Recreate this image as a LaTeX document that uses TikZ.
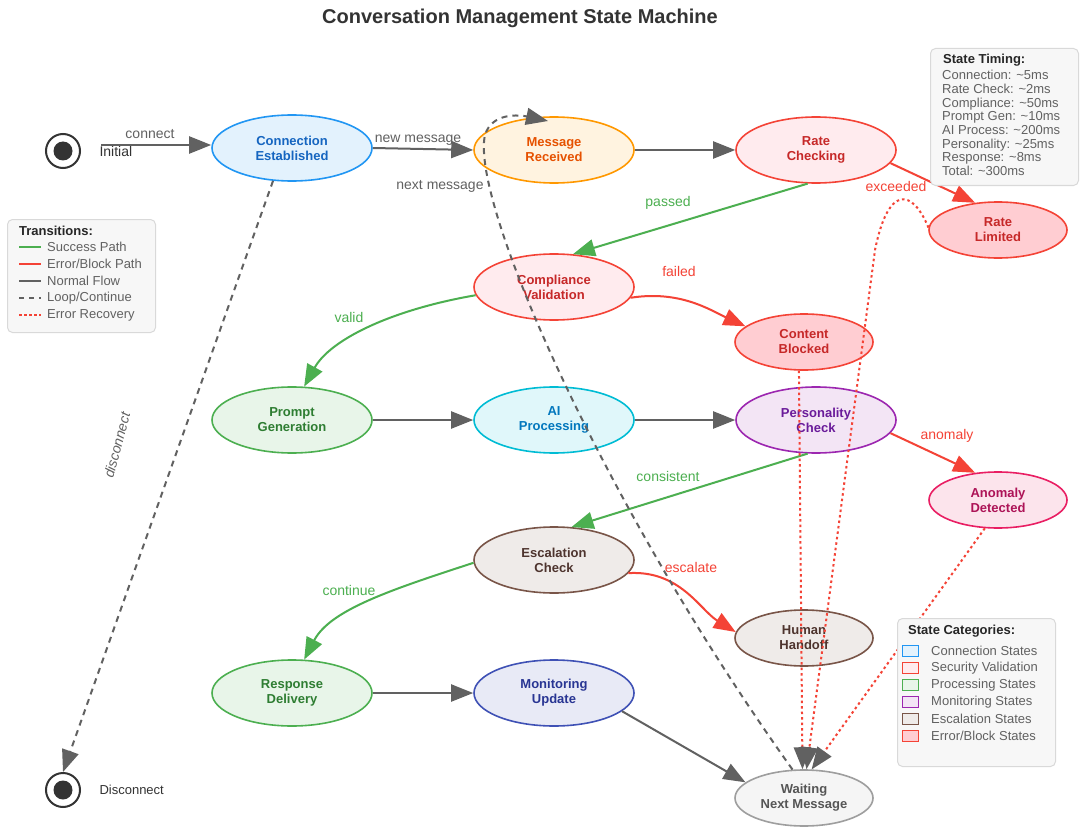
\documentclass[tikz,border=0pt]{standalone}
\usepackage{fontspec}
\setmainfont{Liberation Sans}
\usetikzlibrary{shapes.geometric,arrows.meta}
\definecolor{gr}{HTML}{616161}
\definecolor{sg}{HTML}{4CAF50}
\definecolor{er}{HTML}{F44336}
\definecolor{cB}{HTML}{2196F3}\definecolor{fB}{HTML}{E3F2FD}\definecolor{tB}{HTML}{1565C0}
\definecolor{cO}{HTML}{FF9800}\definecolor{fO}{HTML}{FFF3E0}\definecolor{tO}{HTML}{E65100}
\definecolor{fR}{HTML}{FFEBEE}\definecolor{tR}{HTML}{C62828}\definecolor{fE}{HTML}{FFCDD2}
\definecolor{fG}{HTML}{E8F5E9}\definecolor{tG}{HTML}{2E7D32}
\definecolor{cC}{HTML}{00BCD4}\definecolor{fC}{HTML}{E0F7FA}\definecolor{tC}{HTML}{0277BD}
\definecolor{cP}{HTML}{9C27B0}\definecolor{fP}{HTML}{F3E5F5}\definecolor{tP}{HTML}{6A1B9A}
\definecolor{cK}{HTML}{E91E63}\definecolor{fK}{HTML}{FCE4EC}\definecolor{tK}{HTML}{AD1457}
\definecolor{cW}{HTML}{795548}\definecolor{fW}{HTML}{EFEBE9}\definecolor{tW}{HTML}{4E342E}
\definecolor{cI}{HTML}{3F51B5}\definecolor{fI}{HTML}{E8EAF6}\definecolor{tI}{HTML}{283593}
\definecolor{cY}{HTML}{9E9E9E}\definecolor{fY}{HTML}{F5F5F5}\definecolor{tY}{HTML}{555555}
\tikzset{
 st/.style={ellipse,line width=1.6pt,minimum width=160pt,minimum height=66pt,inner sep=0pt,align=center,font=\fontsize{13}{15}\selectfont\bfseries},
 sm/.style={st,minimum width=138pt,minimum height=56pt},
 blue/.style={draw=cB,fill=fB,text=tB},
 orng/.style={draw=cO,fill=fO,text=tO},
 sec/.style={draw=er,fill=fR,text=tR},
 errs/.style={draw=er,fill=fE,text=tR},
 proc/.style={draw=sg,fill=fG,text=tG},
 cyan/.style={draw=cC,fill=fC,text=tC},
 purp/.style={draw=cP,fill=fP,text=tP},
 pink/.style={draw=cK,fill=fK,text=tK},
 brwn/.style={draw=cW,fill=fW,text=tW},
 indi/.style={draw=cI,fill=fI,text=tI},
 gray/.style={draw=cY,fill=fY,text=tY},
 tip/.style={-{Triangle[length=22pt,width=17pt]}},
 nf/.style={tip,draw=gr,line width=2pt},
 ok/.style={tip,draw=sg,line width=2pt},
 bad/.style={tip,draw=er,line width=2pt},
 loop/.style={draw=gr,line width=2pt,dash pattern=on 6pt off 5pt},
 rec/.style={draw=er,line width=2pt,dash pattern=on 2.5pt off 3pt,-{Triangle[length=22pt,width=17pt,fill=gr,color=gr]}},
 lbl/.style={font=\fontsize{14}{16}\selectfont},
 box/.style={draw=black!15,fill=black!3,rounded corners=5pt,line width=1pt},
 lt/.style={font=\fontsize{13}{13}\selectfont,text=gr,anchor=west,inner sep=0pt},
 lh/.style={font=\fontsize{13}{14}\selectfont\bfseries,text=black!85,anchor=west,inner sep=0pt},
 sw/.style={line width=1pt,minimum width=16pt,minimum height=11pt,inner sep=0pt},
}
\begin{document}
\begin{tikzpicture}[x=1pt,y=-1pt]
\useasboundingbox[fill=white] (0,0) rectangle (1090,840);
\node[font=\fontsize{20}{22}\selectfont\bfseries,text=black!80] (title) at (520,18) {Conversation Management State Machine};
% initial / final
\node[circle,draw=black!80,line width=2pt,minimum size=34pt,inner sep=0pt] (init) at (63,151) {};
\node[circle,fill=black!80,minimum size=19pt,inner sep=0pt] (initd) at (63,151) {};
\node[lbl,text=black!80,anchor=west] (initt) at (96,151) {Initial};
\node[circle,draw=black!80,line width=2pt,minimum size=34pt,inner sep=0pt] (disc) at (63,790) {};
\node[circle,fill=black!80,minimum size=19pt,inner sep=0pt] (discd) at (63,790) {};
\node[font=\fontsize{13}{15}\selectfont,text=black!80,anchor=west] (disct) at (96,790) {Disconnect};
% states
\node[st,blue] (conn) at (292,148) {Connection\\Established};
\node[st,orng] (msg) at (554,150) {Message\\Received};
\node[st,sec] (rate) at (816,150) {Rate\\Checking};
\node[sm,errs] (rlim) at (998,230) {Rate\\Limited};
\node[st,sec] (comp) at (554,287) {Compliance\\Validation};
\node[sm,errs] (blk) at (804,342) {Content\\Blocked};
\node[st,proc] (prm) at (292,420) {Prompt\\Generation};
\node[st,cyan] (ai) at (554,420) {AI\\Processing};
\node[st,purp] (per) at (816,420) {Personality\\Check};
\node[sm,pink] (ano) at (998,500) {Anomaly\\Detected};
\node[st,brwn] (esc) at (554,560) {Escalation\\Check};
\node[sm,brwn] (hum) at (804,638) {Human\\Handoff};
\node[st,proc] (rsp) at (292,693) {Response\\Delivery};
\node[st,indi] (mon) at (554,693) {Monitoring\\Update};
\node[sm,gray] (wait) at (804,798) {Waiting\\Next Message};
% flows
\draw[nf] (init.east) ++(20,-6) coordinate (a0) -- (conn.west |- a0);
\node[lbl,text=gr] (l1) at (150,134) {connect};
\draw[nf] (conn.east) -- (msg.west);
\node[lbl,text=gr] (l2) at (418,140) {new message};
\draw[nf] (msg.east) -- (rate.west);
\draw[ok] (rate.-104) -- (comp.60);
\node[lbl,text=sg] (l3) at (668,203) {passed};
\draw[bad] (rate.-10) -- (rlim.130);
\node[lbl,text=er] (l4) at (896,186) {exceeded};
\draw[ok] (comp.186) .. controls (390,310) and (330,340) .. (prm.70);
\node[lbl,text=sg] (l5) at (349,317) {valid};
\draw[bad] (comp.-8) .. controls (680,290) and (710,310) .. (blk.165);
\node[lbl,text=er] (l6) at (679,271) {failed};
\draw[nf] (prm.east) -- (ai.west);
\draw[nf] (ai.east) -- (per.west);
\draw[ok] (per.-104) -- (esc.62);
\node[lbl,text=sg] (l7) at (668,476) {consistent};
\draw[bad] (per.-10) -- (ano.130);
\node[lbl,text=er] (l8) at (947,436) {anomaly};
\draw[ok] (esc.182) .. controls (390,590) and (330,610) .. (rsp.70);
\node[lbl,text=sg] (l9) at (349,590) {continue};
\draw[bad] (esc.-10) .. controls (680,570) and (700,610) .. (hum.175);
\node[lbl,text=er] (l10) at (691,567) {escalate};
\draw[nf] (rsp.east) -- (mon.west);
\draw[nf] (mon.-15) -- (wait.165);
% loops
\coordinate (nm) at (548,121);
\draw[loop,-{Triangle[length=22pt,width=17pt,fill=gr]}] (wait.112) .. controls (600,500) and (470,200) .. (485,135) .. controls (492,112) and (520,115) .. (nm);
\node[lbl,text=gr] (l11) at (440,186) {next message};
\draw[loop,-{Triangle[length=22pt,width=17pt,fill=gr]}] (conn.-120) -- (disc.north);
\node[lbl,text=gr,rotate=75,font=\fontsize{14}{16}\selectfont\itshape] (l12) at (117,445) {disconnect};
% recovery
\draw[rec] (blk.-100) -- (wait.93);
\draw[rec] (rlim.178) .. controls (912,188) and (888,185) .. (875,250) -- (wait.85);
\draw[rec] (ano.-115) -- (wait.75);
% legend transitions
\node[box,minimum width=148pt,minimum height=113pt,anchor=north west] (lg1) at (7,219) {};
\node[lh] (lg1h) at (19,231) {Transitions:};
\foreach \y/\t [count=\i] in {247/Success Path,264/Error\slash Block Path,281/Normal Flow,298/Loop\slash Continue,315/Error Recovery}{
  \node[lt] (lt\i) at (47,\y) {\t};
}
\draw[sg,line width=2pt] (19,247) -- (41,247);
\draw[er,line width=2pt] (19,264) -- (41,264);
\draw[gr,line width=2pt] (19,281) -- (41,281);
\draw[gr,line width=2pt,dash pattern=on 5pt off 5pt] (19,298) -- (41,298);
\draw[er,line width=2pt,dash pattern=on 2.5pt off 2.5pt] (19,315) -- (41,315);
% timing
\node[box,minimum width=148pt,minimum height=137pt,anchor=north west] (lg2) at (930,48) {};
\node[lh] (lg2h) at (943,60) {State Timing:};
\node[font=\fontsize{13}{13.7}\selectfont,text=gr,align=left,anchor=north west,inner sep=0pt] (tm) at (942,70) {Connection: \textasciitilde5ms\\Rate Check: \textasciitilde2ms\\Compliance: \textasciitilde50ms\\Prompt Gen: \textasciitilde10ms\\AI Process: \textasciitilde200ms\\Personality: \textasciitilde25ms\\Response: \textasciitilde8ms\\Total: \textasciitilde300ms};
% categories
\node[box,minimum width=158pt,minimum height=148pt,anchor=north west] (lg3) at (897,618) {};
\node[lh] (lg3h) at (908,631) {State Categories:};
\foreach \y/\c/\f/\t [count=\i] in {651/cB/fB/Connection States,668/er/fR/Security Validation,685/sg/fG/Processing States,702/cP/fP/Monitoring States,719/cW/fW/Escalation States,736/er/fE/Error\slash Block States}{
  \node[sw,draw=\c,fill=\f] (sw\i) at (910,\y) {};
  \node[lt] (ct\i) at (931,\y) {\t};
}
\end{tikzpicture}
\end{document}
